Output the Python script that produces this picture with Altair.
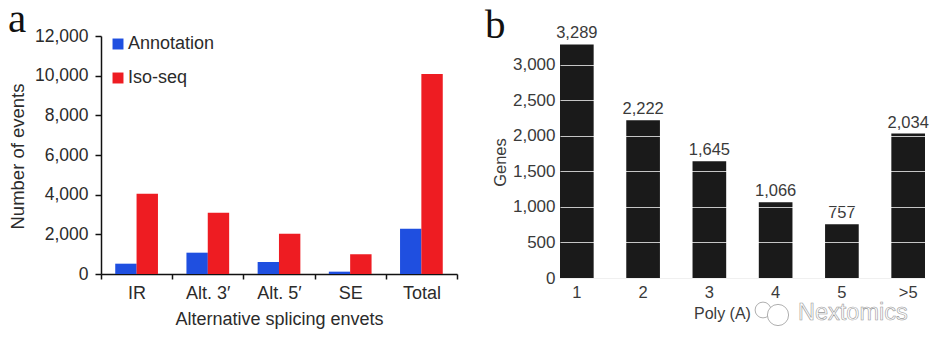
import altair as alt
import pandas as pd

events = ["IR", "Alt. 3′", "Alt. 5′", "SE", "Total"]
annotation = [520, 1075, 605, 118, 2285]
isoseq = [4050, 3090, 2030, 990, 10084]
polya = ["1", "2", "3", "4", "5", ">5"]
genes = [3289, 2222, 1645, 1066, 757, 2034]
FONT = "Liberation Sans"
TXT = "#2b2b2b"
TXTB = "#3a3a3a"

rows = []
for e, a, i in zip(events, annotation, isoseq):
    rows.append({"event": e, "series": "Annotation", "value": a})
    rows.append({"event": e, "series": "Iso-seq", "value": i})
dfa = pd.DataFrame(rows)
dfb = pd.DataFrame({"p": polya, "g": genes})

bars_a = alt.Chart(dfa).mark_bar(size=21.4).encode(
    x=alt.X("event:N", sort=events,
            scale=alt.Scale(paddingInner=0, paddingOuter=0),
            axis=alt.Axis(title="Alternative splicing envets", labelAngle=0, labelFontSize=18,
                          titleFontSize=18, titleFontWeight="normal", titleFont=FONT, labelFont=FONT,
                          labelColor=TXT, titleColor=TXT, domainColor="#111", domainWidth=1.5,
                          tickColor="#111", tickWidth=1.5, tickSize=5, tickBand="extent",
                          labelPadding=5, titlePadding=8, grid=False)),
    xOffset=alt.XOffset("series:N", sort=["Annotation", "Iso-seq"],
                        scale=alt.Scale(paddingInner=0, paddingOuter=0.67)),
    y=alt.Y("value:Q", scale=alt.Scale(domain=[0, 12000], range=[246, 8], nice=False),
            axis=alt.Axis(title="Number of events", values=[0, 2000, 4000, 6000, 8000, 10000, 12000],
                          format=",.0f", labelFontSize=17.5, titleFontSize=18.5, titleFontWeight="normal",
                          titleFont=FONT, labelFont=FONT, labelColor=TXT, titleColor=TXT,
                          domainColor="#111", domainWidth=1.5, tickColor="#111", tickWidth=1.5,
                          tickSize=6, labelPadding=7, titlePadding=7, grid=False, titleY=128)),
    color=alt.Color("series:N", sort=["Annotation", "Iso-seq"],
                    scale=alt.Scale(domain=["Annotation", "Iso-seq"], range=["#1f4fe0", "#ee1c22"]),
                    legend=alt.Legend(title=None, orient="none", legendX=8, legendY=7,
                                      symbolType="square", symbolSize=120, symbolStrokeWidth=0,
                                      labelFontSize=18, labelFont=FONT, labelColor=TXT,
                                      rowPadding=16, labelOffset=1)),
)

letter_a = alt.Chart(pd.DataFrame({"t": ["a"]})).mark_text(
    font="Liberation Serif", fontSize=41, align="left", baseline="alphabetic", color="#111"
).encode(text="t:N", x=alt.value(-93), y=alt.value(4))

panel_a = alt.layer(bars_a, letter_a).properties(width=356, height=246)

y_b = alt.Scale(domain=[0, 3521], range=[250, 0], nice=False)
bars_b = alt.Chart(dfb).mark_bar(color="#1a1a1a").encode(
    x=alt.X("p:N", sort=polya, scale=alt.Scale(paddingInner=0.492, paddingOuter=0),
            axis=alt.Axis(title="Poly (A)", labelAngle=0, labelFontSize=16.5, titleFontSize=16,
                          titleFontWeight="normal", titleFont=FONT, labelFont=FONT,
                          labelColor=TXTB, titleColor=TXTB, domainColor="#c4c4c4", domainWidth=1,
                          ticks=False, labelPadding=6, titlePadding=5, grid=False, titleX=162)),
    y=alt.Y("g:Q", scale=y_b,
            axis=alt.Axis(title="Genes", values=[0, 500, 1000, 1500, 2000, 2500, 3000], format=",.0f",
                          labelFontSize=17, titleFontSize=16.5, titleFontWeight="normal",
                          titleFont=FONT, labelFont=FONT, labelColor=TXTB, titleColor=TXTB,
                          domain=False, ticks=False, labelPadding=5, titlePadding=4,
                          grid=True, gridColor="#ffffff", gridOpacity=0.75, gridWidth=1, zindex=1,
                          titleY=134)),
)
labels_b = alt.Chart(dfb).mark_text(baseline="bottom", dy=-3, fontSize=16.5, font=FONT, color=TXTB).encode(
    x=alt.X("p:N", sort=polya), y=alt.Y("g:Q", scale=y_b), text=alt.Text("g:Q", format=",")
)
letter_b = alt.Chart(pd.DataFrame({"t": ["b"]})).mark_text(
    font="Liberation Serif", fontSize=41, align="left", baseline="alphabetic", color="#111"
).encode(text="t:N", x=alt.value(-75), y=alt.value(10))
wm_text = alt.Chart(pd.DataFrame({"t": ["Nextomics"]})).mark_text(
    font=FONT, fontSize=23.5, align="left", baseline="middle", color="#ffffff",
    stroke="#9a9a9a", strokeWidth=0.6
).encode(text="t:N", x=alt.value(238), y=alt.value(285))
wm_icon = alt.Chart(pd.DataFrame({"xp": [203, 218], "yp": [282, 287], "s": [250, 450]})).mark_point(
    shape="circle", filled=True, fill="#ffffff", stroke="#9a9a9a", strokeWidth=0.8, opacity=1
).encode(x=alt.X("xp:Q", scale=None, axis=None), y=alt.Y("yp:Q", scale=None, axis=None),
         size=alt.Size("s:Q", scale=None, legend=None))

panel_b = alt.layer(bars_b, labels_b, letter_b, wm_icon, wm_text).properties(width=365, height=250)

chart = alt.hconcat(panel_a, panel_b, spacing=27).resolve_scale(color="independent", x="independent", y="independent").properties(
    padding={"left": 0, "top": -9, "right": 0, "bottom": 12},
    background="#ffffff",
).configure_view(stroke=None)

chart.save("out.html", embed_options={"renderer": "svg", "actions": False})
